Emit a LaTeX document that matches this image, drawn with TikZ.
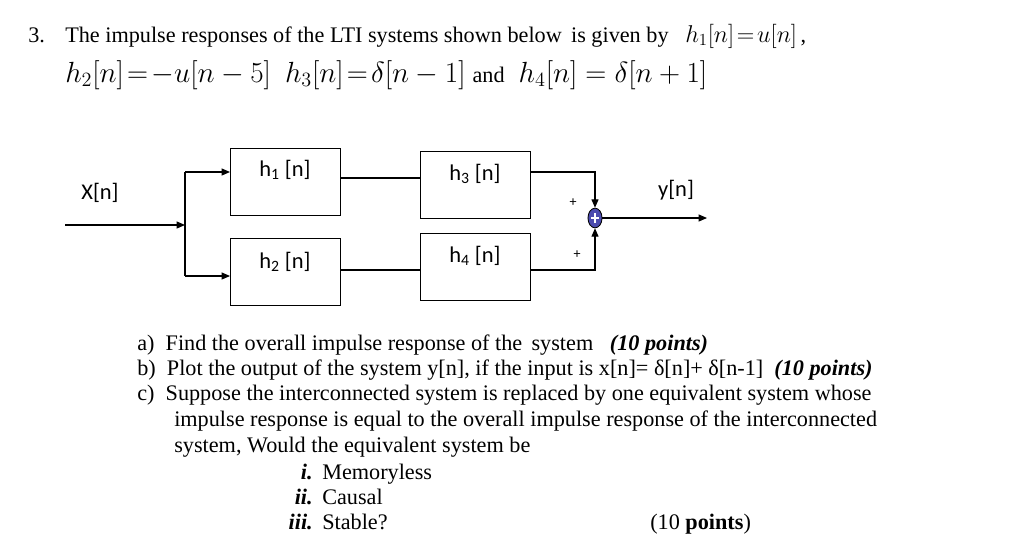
\documentclass[tikz,border=0pt]{standalone}
\usepackage{fontspec}
\setmainfont{Liberation Serif}
\newfontfamily\calfont{Carlito}
\usetikzlibrary{arrows.meta,shapes.geometric}
\begin{document}
\begin{tikzpicture}[x=0.025cm,y=-0.025cm,
  blk/.style={draw,line width=0.7pt,minimum width=110*0.025cm,minimum height=67*0.025cm,anchor=north west,inner sep=0pt},
  lbl/.style={font=\calfont\fontsize{16}{18}\selectfont},
  wire/.style={line width=0.8pt},
  arr/.style={wire,-{Triangle[length=6pt,width=5pt]}},
  txt/.style={anchor=base west,inner sep=0pt,font=\fontsize{15.8}{18}\selectfont}]
\useasboundingbox (0,0) rectangle (1024,554);
% text
\node[txt] (n3) at (28,42) {3.};
\node[txt] (l1) at (65,42) {The impulse responses of the LTI systems shown below \,is given by \ \ {\fontsize{18}{20}\selectfont$h_1[n]\!=\!u[n]$}\,,};
\node[txt] (l2) at (65,82) {\fontsize{20}{22}\selectfont $h_2[n]\!=\!-u[n-5]$\ \ $h_3[n]\!=\!\delta[n-1]$ {\fontsize{15.8}{18}\selectfont and} \ $h_4[n]=\delta[n+1]$};
% blocks
\node[blk] (h1) at (230,148) {};
\node[blk] (h3) at (420,151) {};
\node[blk] (h2) at (230,238) {};
\node[blk] (h4) at (420,233) {};
\node[lbl] (t1) at (285,170) {h\textsubscript{1} [n]};
\node[lbl] (t3) at (475,174) {h\textsubscript{3} [n]};
\node[lbl] (t2) at (285,262) {h\textsubscript{2} [n]};
\node[lbl] (t4) at (475,256) {h\textsubscript{4} [n]};
\node[lbl] (xl) at (100,193) {X[n]};
\node[lbl] (yl) at (676,190) {y[n]};
\node[font=\calfont\fontsize{10}{12}\selectfont] (p1) at (573,203) {+};
\node[font=\calfont\fontsize{10}{12}\selectfont] (p2) at (577,255) {+};
% summer
\node[draw,ellipse,minimum width=10pt,minimum height=14pt,inner sep=0pt,fill=blue!55!black!70,line width=0.6pt] (s) at (595,218) {};
\draw[white,line width=2pt] (s.center) ++(-4,0) -- ++(8,0) (s.center) ++(0,-5) -- ++(0,10);
% wires
\coordinate (in) at (65,225);
\coordinate (br) at (185,225);
\draw[arr] (in) -- (br);
\draw[wire] (185,172) -- (185,276);
\draw[arr] (185,172) -- (h1.west |- 0,172);
\draw[arr] (185,276) -- (h2.west |- 0,276);
\draw[wire] (h1.east |- 0,178) -- (h3.west |- 0,178);
\draw[wire] (h2.east |- 0,270) -- (h4.west |- 0,270);
\draw[arr] (h3.east |- 0,172) -| (s.north);
\draw[arr] (h4.east |- 0,270) -| (s.south);
\coordinate (out) at (707,218);
\draw[arr] (s.east) -- (out);
% questions
\node[txt] (a) at (137,350) {a)\ \ Find the overall impulse response of the \,system \ \ \textbf{\textit{(10 points)}}};
\node[txt] (b) at (137,375) {b)\ \ Plot the output of the system y[n], if the input is x[n]= δ[n]+ δ[n-1] \ \textbf{\textit{(10 points)}}};
\node[txt] (c) at (137,400) {c)\ \ Suppose the interconnected system is replaced by one equivalent system whose};
\node[txt] (c2) at (174,426) {impulse response is equal to the overall impulse response of the interconnected};
\node[txt] (c3) at (174,452) {system, Would the equivalent system be};
\node[txt,anchor=base east] (i) at (313,479) {\textbf{\textit{i.}}};
\node[txt] (it) at (322,479) {Memoryless};
\node[txt,anchor=base east] (ii) at (313,504) {\textbf{\textit{ii.}}};
\node[txt] (iit) at (322,504) {Causal};
\node[txt,anchor=base east] (iii) at (313,529) {\textbf{\textit{iii.}}};
\node[txt] (iiit) at (322,529) {Stable?};
\node[txt] (pts) at (650,529) {(10 \textbf{points})};
\end{tikzpicture}
\end{document}
